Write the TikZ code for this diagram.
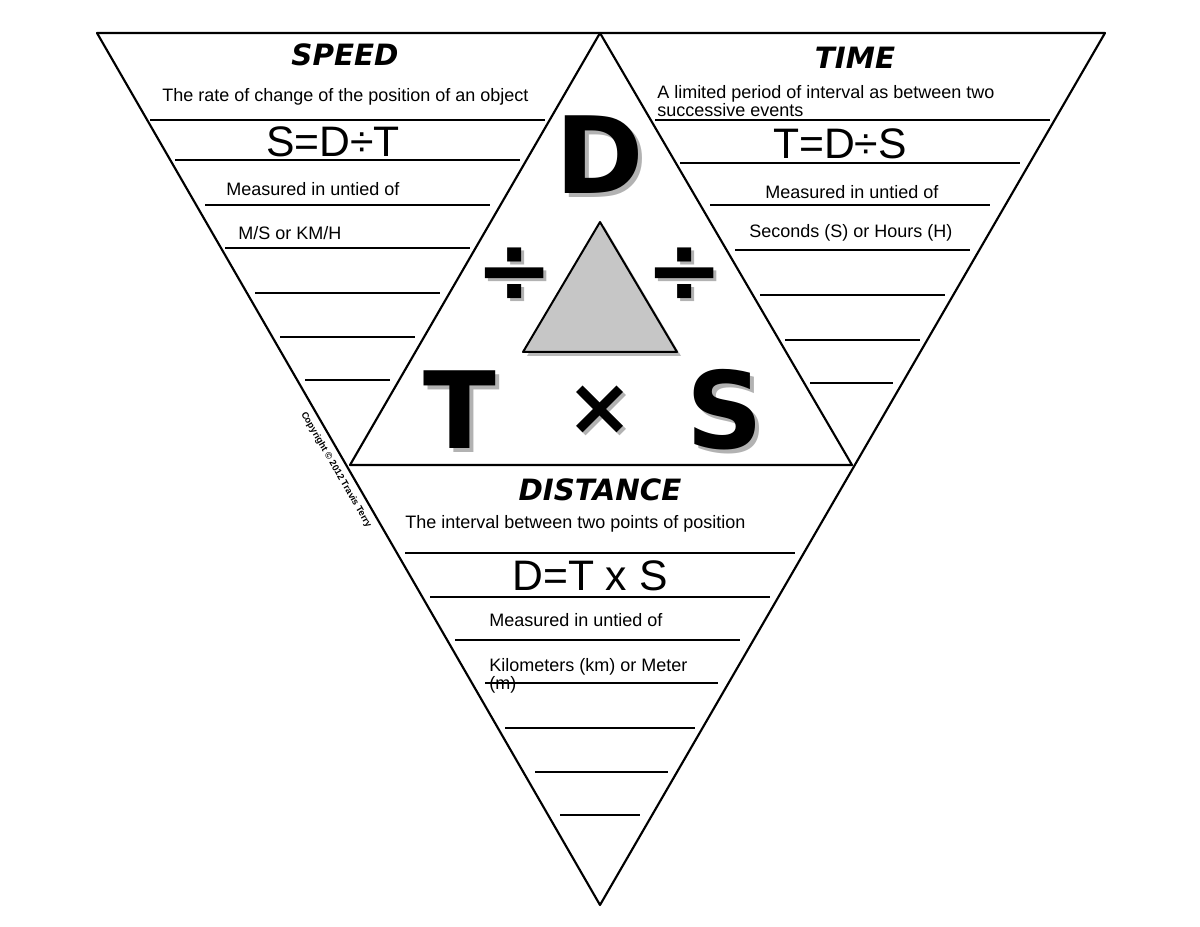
\documentclass[tikz,border=0pt]{standalone}
\usepackage{fontspec}
\setmainfont{Liberation Sans}
\newfontfamily\titlefont{DejaVu Sans}
\newfontfamily\bigfont{DejaVu Sans}
\begin{document}
\begin{tikzpicture}[x=0.75pt,y=-0.75pt,
  edge/.style={line width=1.6pt,line join=round},
  uline/.style={line width=1pt},
  body/.style={font=\fontsize{13.5}{12}\selectfont,anchor=west,inner sep=0},
  formula/.style={font=\fontsize{32}{32}\selectfont,inner sep=0},
  ttl/.style={font=\titlefont\bfseries\itshape\fontsize{22}{22}\selectfont,inner sep=0},
  big/.style={font=\bigfont\bfseries\fontsize{80}{80}\selectfont,inner sep=0},
  shadow/.style={big,text=gray!60}]
\useasboundingbox (0,0) rectangle (1200,927);
\coordinate (L) at (97,33); \coordinate (R) at (1105,33); \coordinate (B) at (600,905);
\coordinate (M) at (600,33); \coordinate (ML) at (350,465); \coordinate (MR) at (852,465);
\draw[edge] (L)--(R)--(B)--cycle;
\draw[edge] (M)--(ML)--(MR)--cycle;
\foreach \y/\a/\b in {120/150/545,160/175/520,205/205/490,248/225/470,293/255/440,337/280/415,380/305/390}
  \draw[uline] (\a,\y)--(\b,\y);
\foreach \y/\a/\b in {120/655/1050,163/680/1020,205/710/990,250/735/970,295/760/945,340/785/920,383/810/893}
  \draw[uline] (\a,\y)--(\b,\y);
\foreach \y/\a/\b in {553/405/795,597/430/770,640/455/740,683/485/718,728/505/695,772/535/668,815/560/640}
  \draw[uline] (\a,\y)--(\b,\y);
\node[ttl] (ts) at (345,55) {SPEED};
\node[ttl] (tt) at (855,58) {TIME};
\node[ttl] (td) at (600,490) {DISTANCE};
\node[body] (s1) at (162,97) {The rate of change of the position of an object};
\node[formula] (s2) at (333,142) {S=D÷T};
\node[body] (s3) at (226,189) {Measured in untied of};
\node[body] (s4) at (238,233) {M/S or KM/H};
\node[body,align=left] (t1) at (657,101) {A limited period of interval as between two\\successive events};
\node[formula] (t2) at (840,144) {T=D÷S};
\node[body] (t3) at (765,192) {Measured in untied of};
\node[body] (t4) at (749,233) {Seconds (S) or Hours (H)};
\node[body] (d1) at (405,524) {The interval between two points of position};
\node[formula] (d2) at (590,576) {D=T x S};
\node[body] (d3) at (489,620) {Measured in untied of};
\node[body,align=left] (d4) at (489,676) {Kilometers (km) or Meter\\(m)};
\node[shadow] at (604,159) {D}; \node[big] (D) at (600,155) {D};
\node[shadow] at (464,414) {T}; \node[big] (T) at (460,410) {T};
\node[shadow] at (729,414) {S}; \node[big] (S) at (725,410) {S};
\node[shadow,font=\bigfont\bfseries\fontsize{60}{60}\selectfont] at (603,413) {×};
\node[big,font=\bigfont\bfseries\fontsize{60}{60}\selectfont] (x) at (600,410) {×};
\node[shadow,font=\bigfont\bfseries\fontsize{70}{70}\selectfont] at (518,278) {÷};
\node[big,font=\bigfont\bfseries\fontsize{70}{70}\selectfont] (dl) at (515,275) {÷};
\node[shadow,font=\bigfont\bfseries\fontsize{70}{70}\selectfont] at (688,278) {÷};
\node[big,font=\bigfont\bfseries\fontsize{70}{70}\selectfont] (dr) at (685,275) {÷};
\fill[gray!55] (604,226)--(527,356)--(681,356)--cycle;
\draw[line width=1.5pt,fill=gray!45,line join=round] (600,222)--(523,352)--(677,352)--cycle;
\node[font=\bfseries\fontsize{7}{7}\selectfont,rotate=-60,inner sep=0] (c) at (336,470) {Copyright © 2012 Travis Terry};
\end{tikzpicture}
\end{document}
